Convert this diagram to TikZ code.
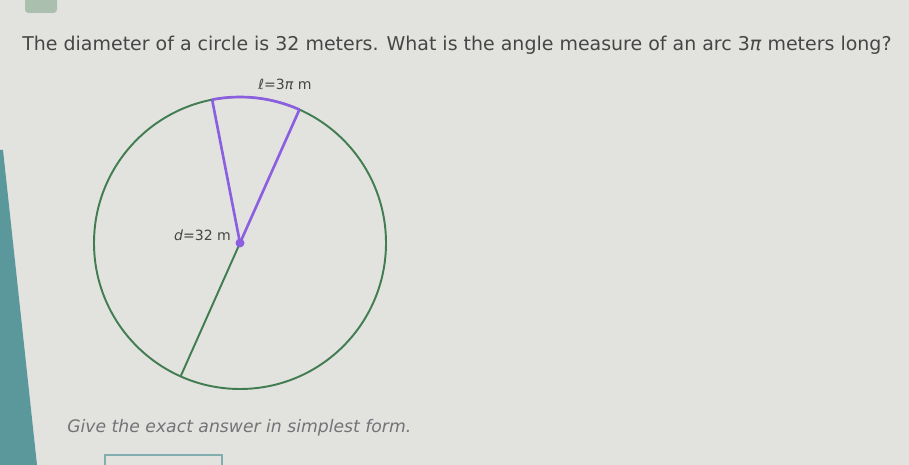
\documentclass[tikz,border=0pt]{standalone}
\usepackage{fontspec}
\setmainfont{DejaVu Sans}
\usetikzlibrary{positioning}
\definecolor{screen}{RGB}{226,226,223}
\definecolor{rimgreen}{RGB}{65,125,80}
\definecolor{arcpurple}{RGB}{140,95,225}
\definecolor{textgray}{RGB}{70,70,70}
\definecolor{hintgray}{RGB}{115,115,120}
\definecolor{desk}{RGB}{90,152,155}
\begin{document}
\begin{tikzpicture}[x=0.02cm,y=0.02cm,
    question/.style={anchor=west,text=textgray,font=\fontsize{10.8}{13}\selectfont,inner sep=0pt},
    measure/.style={text=textgray,font=\fontsize{8}{9}\selectfont,inner sep=1pt},
    spoke/.style={draw=arcpurple,line width=1.5pt},
    rim/.style={draw=rimgreen,line width=1.1pt}]
  \clip (0,0) rectangle (909,465);
  \fill[screen] (0,0) rectangle (909,465);
  \fill[desk] (0,315) -- (3,315) -- (37,0) -- (0,0) -- cycle;
  \fill[rimgreen!35!screen,rounded corners=2pt] (25,452) rectangle (57,472);
  % question
  \node[question] (ask) at (22,420) {The diameter of a circle is 32 meters. What is the angle measure of an arc 3\textit{π} meters long?};
  % circle
  \coordinate (o) at (240,222);
  \path (o) ++(101:146) coordinate (a);
  \path (o) ++(66:146) coordinate (b);
  \path (o) ++(246:146) coordinate (c);
  \draw[rim] (o) circle [radius=146];
  \draw[rim] (o) -- (c);
  \draw[spoke] (b) arc [start angle=66,end angle=101,radius=146];
  \draw[spoke] (o) -- (a);
  \draw[spoke] (o) -- (b);
  \fill[arcpurple] (o) circle [radius=4.5];
  \node[measure] (arclen) at (285,381) {\textit{ℓ}=3\textit{π} m};
  \node[measure,above left=0pt and 4pt of o] (diam) {\textit{d}=32 m};
  % prompt and answer box
  \node[question,text=hintgray,font=\fontsize{9.8}{12}\selectfont\itshape] (hint) at (67,37) {Give the exact answer in simplest form.};
  \draw[desk!70!screen,line width=0.8pt] (105,-10) rectangle (222,10);
\end{tikzpicture}
\end{document}
